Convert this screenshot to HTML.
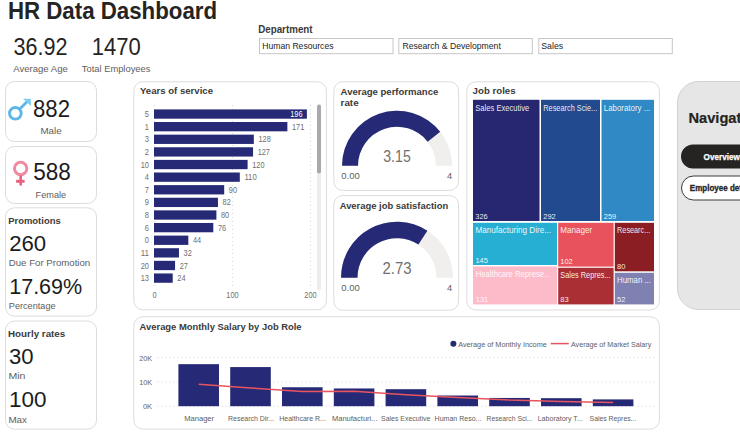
<!DOCTYPE html>
<html><head><meta charset="utf-8"><title>HR Data Dashboard</title>
<style>
*{margin:0;padding:0}
html,body{width:740px;height:434px;overflow:hidden;background:#fff}
svg{display:block;font-family:"Liberation Sans",sans-serif}
</style></head><body>
<svg width="740" height="434" viewBox="0 0 740 434">
<rect x="259.5" y="38.5" width="133.5" height="15.2" fill="#fff" stroke="#c6c6c6" stroke-width="1"/>
<rect x="398.8" y="38.5" width="133.5" height="15.2" fill="#fff" stroke="#c6c6c6" stroke-width="1"/>
<rect x="538.8" y="38.5" width="133.5" height="15.2" fill="#fff" stroke="#c6c6c6" stroke-width="1"/>
<rect x="5.5" y="81.5" width="91" height="60" rx="9" fill="#fff" stroke="#dcdcdc" stroke-width="1"/>
<rect x="5.5" y="146.5" width="91" height="57" rx="9" fill="#fff" stroke="#dcdcdc" stroke-width="1"/>
<rect x="5.5" y="207.8" width="91" height="108.3" rx="9" fill="#fff" stroke="#dcdcdc" stroke-width="1"/>
<rect x="5.5" y="321.0" width="91" height="108.2" rx="9" fill="#fff" stroke="#dcdcdc" stroke-width="1"/>
<g><circle cx="15.35" cy="113.3" r="5.85" fill="none" stroke="#5cb6e8" stroke-width="2.9"/><line x1="19.5" y1="109.2" x2="27.5" y2="101.2" stroke="#5cb6e8" stroke-width="2.8"/><path d="M23.1,98.8 L30.8,98.8 L30.8,106 Z" fill="#7ccbf1"/></g>
<g><circle cx="20.65" cy="168.5" r="6.2" fill="none" stroke="#f08aa1" stroke-width="3"/><rect x="19.4" y="175.5" width="2.6" height="10" fill="#e8637f"/><rect x="16.1" y="179.8" width="8.5" height="3" fill="#e8637f"/></g>
<rect x="133.8" y="81.8" width="192.6" height="228" rx="9" fill="#fff" stroke="#dcdcdc" stroke-width="1"/>
<line x1="154.5" y1="105" x2="154.5" y2="288" stroke="#d8d8d8" stroke-width="1" stroke-dasharray="1 3"/>
<line x1="232.5" y1="105" x2="232.5" y2="288" stroke="#d8d8d8" stroke-width="1" stroke-dasharray="1 3"/>
<line x1="310.5" y1="105" x2="310.5" y2="288" stroke="#d8d8d8" stroke-width="1" stroke-dasharray="1 3"/>
<rect x="154.0" y="109.40" width="152.88" height="9.3" fill="#262a76"/>
<rect x="154.0" y="122.02" width="133.38" height="9.3" fill="#262a76"/>
<rect x="154.0" y="134.64" width="99.84" height="9.3" fill="#262a76"/>
<rect x="154.0" y="147.26" width="99.06" height="9.3" fill="#262a76"/>
<rect x="154.0" y="159.88" width="93.60" height="9.3" fill="#262a76"/>
<rect x="154.0" y="172.50" width="85.80" height="9.3" fill="#262a76"/>
<rect x="154.0" y="185.12" width="70.20" height="9.3" fill="#262a76"/>
<rect x="154.0" y="197.74" width="63.96" height="9.3" fill="#262a76"/>
<rect x="154.0" y="210.36" width="62.40" height="9.3" fill="#262a76"/>
<rect x="154.0" y="222.98" width="59.28" height="9.3" fill="#262a76"/>
<rect x="154.0" y="235.60" width="34.32" height="9.3" fill="#262a76"/>
<rect x="154.0" y="248.22" width="24.96" height="9.3" fill="#262a76"/>
<rect x="154.0" y="260.84" width="21.06" height="9.3" fill="#262a76"/>
<rect x="154.0" y="273.46" width="18.72" height="9.3" fill="#262a76"/>
<rect x="317" y="104.4" width="4" height="186" rx="2" fill="#ededed"/>
<rect x="317" y="104.4" width="4" height="69" rx="2" fill="#a9a9a9"/>
<rect x="333.8" y="81.8" width="124.8" height="108.6" rx="9" fill="#fff" stroke="#dcdcdc" stroke-width="1"/>
<rect x="333.8" y="195.6" width="124.8" height="114.6" rx="9" fill="#fff" stroke="#dcdcdc" stroke-width="1"/>
<path d="M342.00,165.80 A55,55 0 0 1 452.00,165.80 L436.00,165.80 A39,39 0 0 0 358.00,165.80 Z" fill="#f0efee"/>
<path d="M342.00,165.80 A55,55 0 0 1 440.19,131.75 L427.63,141.66 A39,39 0 0 0 358.00,165.80 Z" fill="#262a76"/>
<path d="M341.00,277.70 A56,56 0 0 1 453.00,277.70 L436.50,277.70 A39.5,39.5 0 0 0 357.50,277.70 Z" fill="#f0efee"/>
<path d="M341.00,277.70 A56,56 0 0 1 427.38,230.65 L418.43,244.52 A39.5,39.5 0 0 0 357.50,277.70 Z" fill="#262a76"/>
<rect x="466.8" y="81.8" width="192.6" height="228.2" rx="9" fill="#fff" stroke="#dcdcdc" stroke-width="1"/>
<rect x="473" y="99.8" width="66.50" height="121.20" fill="#262770"/>
<rect x="541" y="99.8" width="59.00" height="121.20" fill="#224a8f"/>
<rect x="601.5" y="99.8" width="52.50" height="121.20" fill="#2f89c5"/>
<rect x="473" y="222.8" width="84.00" height="42.20" fill="#27aed3"/>
<rect x="473" y="266.4" width="84.00" height="38.00" fill="#fdbbca"/>
<rect x="558.2" y="222.8" width="55.40" height="43.80" fill="#e8525c"/>
<rect x="558.2" y="267.8" width="55.40" height="36.60" fill="#aa2f35"/>
<rect x="614.8" y="222.8" width="39.20" height="48.50" fill="#8b1e23"/>
<rect x="614.8" y="272.8" width="39.20" height="31.60" fill="#8081b3"/>
<rect x="677.5" y="81.5" width="100" height="228" rx="21" fill="#e6e6e6" stroke="#d2d2d2" stroke-width="1"/>
<rect x="681" y="144.5" width="90" height="24" rx="12" fill="#252423"/>
<rect x="681.5" y="176" width="90" height="24" rx="12" fill="#fff" stroke="#3a3a3a" stroke-width="1"/>
<rect x="133.8" y="316.8" width="525.6" height="112.3" rx="9" fill="#fff" stroke="#dcdcdc" stroke-width="1"/>
<line x1="157.5" y1="357.6" x2="656" y2="357.6" stroke="#d4d4d4" stroke-width="1" stroke-dasharray="1 3"/>
<line x1="157.5" y1="381.9" x2="656" y2="381.9" stroke="#d4d4d4" stroke-width="1" stroke-dasharray="1 3"/>
<line x1="157.5" y1="406.2" x2="656" y2="406.2" stroke="#d4d4d4" stroke-width="1" stroke-dasharray="1 3"/>
<rect x="178.40" y="364.16" width="40.6" height="42.04" fill="#262a76"/>
<rect x="230.20" y="367.08" width="40.6" height="39.12" fill="#262a76"/>
<rect x="282.00" y="387.25" width="40.6" height="18.95" fill="#262a76"/>
<rect x="333.80" y="388.46" width="40.6" height="17.74" fill="#262a76"/>
<rect x="385.60" y="389.19" width="40.6" height="17.01" fill="#262a76"/>
<rect x="437.40" y="395.51" width="40.6" height="10.69" fill="#262a76"/>
<rect x="489.20" y="397.94" width="40.6" height="8.26" fill="#262a76"/>
<rect x="541.00" y="398.18" width="40.6" height="8.02" fill="#262a76"/>
<rect x="592.80" y="399.40" width="40.6" height="6.80" fill="#262a76"/>
<polyline points="198.70,384.21 250.50,387.97 302.30,391.38 354.10,391.13 405.90,394.78 457.70,397.45 509.50,400.12 561.30,401.58 613.10,402.56" fill="none" stroke="#e8555e" stroke-width="1.5"/>
<circle cx="453.4" cy="343.8" r="3" fill="#262a76"/>
<line x1="550.7" y1="343.6" x2="568.8" y2="343.6" stroke="#e8555e" stroke-width="1.5"/>
<g fill="#252423">
<text x="7.9" y="19" font-size="23.4" font-weight="700" textLength="209.2" lengthAdjust="spacingAndGlyphs">HR Data Dashboard</text>
<text x="13.6" y="54.6" font-size="23.2" textLength="54" lengthAdjust="spacingAndGlyphs">36.92</text>
<text x="13.2" y="72.2" font-size="9.5" fill="#605e5c" textLength="54.6" lengthAdjust="spacingAndGlyphs">Average Age</text>
<text x="91.8" y="54.6" font-size="23.2" textLength="49" lengthAdjust="spacingAndGlyphs">1470</text>
<text x="81.8" y="72.2" font-size="9.5" fill="#605e5c" textLength="68.6" lengthAdjust="spacingAndGlyphs">Total Employees</text>
<text x="258.2" y="33" font-size="10" font-weight="700" fill="#3b3a39" textLength="54.4" lengthAdjust="spacingAndGlyphs">Department</text>
<text x="262.3" y="49.4" font-size="9.8" textLength="71.2" lengthAdjust="spacingAndGlyphs">Human Resources</text>
<text x="402.4" y="49.4" font-size="9.8" textLength="98.4" lengthAdjust="spacingAndGlyphs">Research &amp; Development</text>
<text x="541.2" y="49.4" font-size="9.8" textLength="22" lengthAdjust="spacingAndGlyphs">Sales</text>
<text x="33" y="116.6" font-size="23.6" fill="#1c1c1c" textLength="37" lengthAdjust="spacingAndGlyphs">882</text>
<text x="40.4" y="133.8" font-size="9" fill="#605e5c" textLength="21.2" lengthAdjust="spacingAndGlyphs">Male</text>
<text x="33.2" y="179.6" font-size="23.6" fill="#1c1c1c" textLength="37.6" lengthAdjust="spacingAndGlyphs">588</text>
<text x="35.6" y="197.5" font-size="9" fill="#605e5c" textLength="30.6" lengthAdjust="spacingAndGlyphs">Female</text>
<text x="8.2" y="224.3" font-size="9.4" font-weight="700" fill="#3b3a39" textLength="52.5" lengthAdjust="spacingAndGlyphs">Promotions</text>
<text x="9.2" y="250.9" font-size="22.5" fill="#1c1c1c" textLength="37" lengthAdjust="spacingAndGlyphs">260</text>
<text x="8.8" y="266.4" font-size="9" fill="#605e5c" textLength="81.4" lengthAdjust="spacingAndGlyphs">Due For Promotion</text>
<text x="9.2" y="294.2" font-size="22.5" fill="#1c1c1c" textLength="73" lengthAdjust="spacingAndGlyphs">17.69%</text>
<text x="8.8" y="309.2" font-size="9" fill="#605e5c" textLength="46.8" lengthAdjust="spacingAndGlyphs">Percentage</text>
<text x="8.0" y="337" font-size="9.4" font-weight="700" fill="#3b3a39" textLength="57.3" lengthAdjust="spacingAndGlyphs">Hourly rates</text>
<text x="8.9" y="364.4" font-size="22.5" fill="#1c1c1c" textLength="24.6" lengthAdjust="spacingAndGlyphs">30</text>
<text x="8.4" y="379.1" font-size="9" fill="#605e5c" textLength="17.0" lengthAdjust="spacingAndGlyphs">Min</text>
<text x="9.0" y="407.4" font-size="22.5" fill="#1c1c1c" textLength="37.5" lengthAdjust="spacingAndGlyphs">100</text>
<text x="8.4" y="423" font-size="9" fill="#605e5c" textLength="18.6" lengthAdjust="spacingAndGlyphs">Max</text>
<text x="140.0" y="94" font-size="9.4" font-weight="700" fill="#3b3a39" textLength="73" lengthAdjust="spacingAndGlyphs">Years of service</text>
<text x="149.0" y="117.15" font-size="8.6" fill="#707070" text-anchor="end" textLength="4.15" lengthAdjust="spacingAndGlyphs">5</text>
<text x="302.58" y="117.15" font-size="8.6" fill="#ffffff" text-anchor="end" textLength="12.30" lengthAdjust="spacingAndGlyphs">196</text>
<text x="149.0" y="129.77" font-size="8.6" fill="#707070" text-anchor="end" textLength="4.15" lengthAdjust="spacingAndGlyphs">1</text>
<text x="291.98" y="129.77" font-size="8.6" fill="#707070" textLength="12.30" lengthAdjust="spacingAndGlyphs">171</text>
<text x="149.0" y="142.39" font-size="8.6" fill="#707070" text-anchor="end" textLength="4.15" lengthAdjust="spacingAndGlyphs">3</text>
<text x="258.44" y="142.39" font-size="8.6" fill="#707070" textLength="12.30" lengthAdjust="spacingAndGlyphs">128</text>
<text x="149.0" y="155.01" font-size="8.6" fill="#707070" text-anchor="end" textLength="4.15" lengthAdjust="spacingAndGlyphs">2</text>
<text x="257.66" y="155.01" font-size="8.6" fill="#707070" textLength="12.30" lengthAdjust="spacingAndGlyphs">127</text>
<text x="149.0" y="167.63" font-size="8.6" fill="#707070" text-anchor="end" textLength="8.30" lengthAdjust="spacingAndGlyphs">10</text>
<text x="252.20" y="167.63" font-size="8.6" fill="#707070" textLength="12.30" lengthAdjust="spacingAndGlyphs">120</text>
<text x="149.0" y="180.25" font-size="8.6" fill="#707070" text-anchor="end" textLength="4.15" lengthAdjust="spacingAndGlyphs">4</text>
<text x="244.40" y="180.25" font-size="8.6" fill="#707070" textLength="12.30" lengthAdjust="spacingAndGlyphs">110</text>
<text x="149.0" y="192.87" font-size="8.6" fill="#707070" text-anchor="end" textLength="4.15" lengthAdjust="spacingAndGlyphs">7</text>
<text x="228.80" y="192.87" font-size="8.6" fill="#707070" textLength="8.20" lengthAdjust="spacingAndGlyphs">90</text>
<text x="149.0" y="205.49" font-size="8.6" fill="#707070" text-anchor="end" textLength="4.15" lengthAdjust="spacingAndGlyphs">9</text>
<text x="222.56" y="205.49" font-size="8.6" fill="#707070" textLength="8.20" lengthAdjust="spacingAndGlyphs">82</text>
<text x="149.0" y="218.11" font-size="8.6" fill="#707070" text-anchor="end" textLength="4.15" lengthAdjust="spacingAndGlyphs">8</text>
<text x="221.00" y="218.11" font-size="8.6" fill="#707070" textLength="8.20" lengthAdjust="spacingAndGlyphs">80</text>
<text x="149.0" y="230.73" font-size="8.6" fill="#707070" text-anchor="end" textLength="4.15" lengthAdjust="spacingAndGlyphs">6</text>
<text x="217.88" y="230.73" font-size="8.6" fill="#707070" textLength="8.20" lengthAdjust="spacingAndGlyphs">76</text>
<text x="149.0" y="243.35" font-size="8.6" fill="#707070" text-anchor="end" textLength="4.15" lengthAdjust="spacingAndGlyphs">0</text>
<text x="192.92" y="243.35" font-size="8.6" fill="#707070" textLength="8.20" lengthAdjust="spacingAndGlyphs">44</text>
<text x="149.0" y="255.97" font-size="8.6" fill="#707070" text-anchor="end" textLength="8.30" lengthAdjust="spacingAndGlyphs">11</text>
<text x="183.56" y="255.97" font-size="8.6" fill="#707070" textLength="8.20" lengthAdjust="spacingAndGlyphs">32</text>
<text x="149.0" y="268.59" font-size="8.6" fill="#707070" text-anchor="end" textLength="8.30" lengthAdjust="spacingAndGlyphs">20</text>
<text x="179.66" y="268.59" font-size="8.6" fill="#707070" textLength="8.20" lengthAdjust="spacingAndGlyphs">27</text>
<text x="149.0" y="281.21" font-size="8.6" fill="#707070" text-anchor="end" textLength="8.30" lengthAdjust="spacingAndGlyphs">13</text>
<text x="177.32" y="281.21" font-size="8.6" fill="#707070" textLength="8.20" lengthAdjust="spacingAndGlyphs">24</text>
<text x="154.5" y="298.4" font-size="8.4" fill="#707070" text-anchor="middle" textLength="4.10" lengthAdjust="spacingAndGlyphs">0</text>
<text x="232.5" y="298.4" font-size="8.4" fill="#707070" text-anchor="middle" textLength="12.30" lengthAdjust="spacingAndGlyphs">100</text>
<text x="310.5" y="298.4" font-size="8.4" fill="#707070" text-anchor="middle" textLength="12.30" lengthAdjust="spacingAndGlyphs">200</text>
<text x="340.6" y="94.9" font-size="9.4" font-weight="700" fill="#3b3a39" textLength="97.7" lengthAdjust="spacingAndGlyphs">Average performance</text>
<text x="340.6" y="106.1" font-size="9.4" font-weight="700" fill="#3b3a39" textLength="18" lengthAdjust="spacingAndGlyphs">rate</text>
<text x="339.7" y="208.9" font-size="9.4" font-weight="700" fill="#3b3a39" textLength="108.5" lengthAdjust="spacingAndGlyphs">Average job satisfaction</text>
<text x="397" y="161.6" font-size="17" fill="#707070" text-anchor="middle" textLength="27.5" lengthAdjust="spacingAndGlyphs">3.15</text>
<text x="341.3" y="179.1" font-size="9.2" fill="#605e5c" textLength="18.5" lengthAdjust="spacingAndGlyphs">0.00</text>
<text x="452.2" y="179.1" font-size="9.2" fill="#605e5c" text-anchor="end">4</text>
<text x="397" y="274.4" font-size="17" fill="#707070" text-anchor="middle" textLength="29" lengthAdjust="spacingAndGlyphs">2.73</text>
<text x="341.3" y="291.2" font-size="9.2" fill="#605e5c" textLength="18.5" lengthAdjust="spacingAndGlyphs">0.00</text>
<text x="452.2" y="291.2" font-size="9.2" fill="#605e5c" text-anchor="end">4</text>
<text x="472.6" y="94" font-size="9.4" font-weight="700" fill="#3b3a39" textLength="43" lengthAdjust="spacingAndGlyphs">Job roles</text>
<text x="475.3" y="110.7" font-size="8.2" fill="#ffffff" textLength="54.0" lengthAdjust="spacingAndGlyphs" fill-opacity="0.92">Sales Executive</text>
<text x="475.3" y="218.8" font-size="8.0" fill="#ffffff" textLength="12.4" lengthAdjust="spacingAndGlyphs" fill-opacity="0.92">326</text>
<text x="543.3000000000001" y="110.7" font-size="8.2" fill="#ffffff" textLength="53.9" lengthAdjust="spacingAndGlyphs" fill-opacity="0.92">Research Scie...</text>
<text x="543.3000000000001" y="218.8" font-size="8.0" fill="#ffffff" textLength="12.4" lengthAdjust="spacingAndGlyphs" fill-opacity="0.92">292</text>
<text x="603.8000000000001" y="110.7" font-size="8.2" fill="#ffffff" textLength="46.5" lengthAdjust="spacingAndGlyphs" fill-opacity="0.92">Laboratory ...</text>
<text x="603.8000000000001" y="218.8" font-size="8.0" fill="#ffffff" textLength="12.4" lengthAdjust="spacingAndGlyphs" fill-opacity="0.92">259</text>
<text x="475.40000000000003" y="233.0" font-size="8.2" fill="#ffffff" textLength="75.7" lengthAdjust="spacingAndGlyphs" fill-opacity="0.92">Manufacturing Dire...</text>
<text x="475.40000000000003" y="262.8" font-size="8.0" fill="#ffffff" textLength="12.4" lengthAdjust="spacingAndGlyphs" fill-opacity="0.92">145</text>
<text x="475.8" y="276.6" font-size="8.2" fill="#ffffff" textLength="74.6" lengthAdjust="spacingAndGlyphs" fill-opacity="0.92">Healthcare Represe...</text>
<text x="475.8" y="302.2" font-size="8.0" fill="#ffffff" textLength="12.4" lengthAdjust="spacingAndGlyphs" fill-opacity="0.92">131</text>
<text x="560.3000000000001" y="233.0" font-size="8.2" fill="#ffffff" textLength="31.9" lengthAdjust="spacingAndGlyphs" fill-opacity="0.92">Manager</text>
<text x="560.3000000000001" y="264.4" font-size="8.0" fill="#ffffff" textLength="12.4" lengthAdjust="spacingAndGlyphs" fill-opacity="0.92">102</text>
<text x="560.3000000000001" y="278.0" font-size="8.2" fill="#ffffff" textLength="50.3" lengthAdjust="spacingAndGlyphs" fill-opacity="0.92">Sales Repres...</text>
<text x="560.3000000000001" y="302.2" font-size="8.0" fill="#ffffff" textLength="8.4" lengthAdjust="spacingAndGlyphs" fill-opacity="0.92">83</text>
<text x="617.1" y="233.0" font-size="8.2" fill="#ffffff" textLength="33.1" lengthAdjust="spacingAndGlyphs" fill-opacity="0.92">Researc...</text>
<text x="617.1" y="269.1" font-size="8.0" fill="#ffffff" textLength="8.4" lengthAdjust="spacingAndGlyphs" fill-opacity="0.92">80</text>
<text x="617.1" y="283.0" font-size="8.2" fill="#ffffff" textLength="33.8" lengthAdjust="spacingAndGlyphs" fill-opacity="0.92">Human ...</text>
<text x="617.1" y="302.2" font-size="8.0" fill="#ffffff" textLength="8.4" lengthAdjust="spacingAndGlyphs" fill-opacity="0.92">52</text>
<text x="688.4" y="122.7" font-size="14" stroke="#252423" stroke-width="0.2" font-weight="700" textLength="75" lengthAdjust="spacingAndGlyphs">Navigation</text>
<text x="703.6" y="160" font-size="8.2" stroke="#ffffff" stroke-width="0.25" font-weight="700" fill="#ffffff" textLength="36.2" lengthAdjust="spacingAndGlyphs">Overview</text>
<text x="689.8" y="191.4" font-size="8.2" stroke="#252423" stroke-width="0.3" font-weight="700" textLength="65.5" lengthAdjust="spacingAndGlyphs">Employee details</text>
<text x="139.6" y="330" font-size="9.4" font-weight="700" fill="#3b3a39" textLength="162" lengthAdjust="spacingAndGlyphs">Average Monthly Salary by Job Role</text>
<text x="152.2" y="360.5" font-size="8.0" fill="#666666" text-anchor="end" textLength="13.0" lengthAdjust="spacingAndGlyphs">20K</text>
<text x="152.2" y="384.8" font-size="8.0" fill="#666666" text-anchor="end" textLength="13.0" lengthAdjust="spacingAndGlyphs">10K</text>
<text x="152.2" y="409.1" font-size="8.0" fill="#666666" text-anchor="end" textLength="9.3" lengthAdjust="spacingAndGlyphs">0K</text>
<text x="199.15" y="420.5" font-size="7.8" fill="#605e5c" text-anchor="middle" textLength="29.9" lengthAdjust="spacingAndGlyphs">Manager</text>
<text x="251.05" y="420.5" font-size="7.8" fill="#605e5c" text-anchor="middle" textLength="45.9" lengthAdjust="spacingAndGlyphs">Research Dir...</text>
<text x="302.60" y="420.5" font-size="7.8" fill="#605e5c" text-anchor="middle" textLength="46.6" lengthAdjust="spacingAndGlyphs">Healthcare R...</text>
<text x="354.75" y="420.5" font-size="7.8" fill="#605e5c" text-anchor="middle" textLength="45.5" lengthAdjust="spacingAndGlyphs">Manufacturi...</text>
<text x="405.70" y="420.5" font-size="7.8" fill="#605e5c" text-anchor="middle" textLength="49.2" lengthAdjust="spacingAndGlyphs">Sales Executive</text>
<text x="458.05" y="420.5" font-size="7.8" fill="#605e5c" text-anchor="middle" textLength="46.9" lengthAdjust="spacingAndGlyphs">Human Reso...</text>
<text x="509.50" y="420.5" font-size="7.8" fill="#605e5c" text-anchor="middle" textLength="46.0" lengthAdjust="spacingAndGlyphs">Research Sci...</text>
<text x="560.20" y="420.5" font-size="7.8" fill="#605e5c" text-anchor="middle" textLength="45.0" lengthAdjust="spacingAndGlyphs">Laboratory T...</text>
<text x="612.95" y="420.5" font-size="7.8" fill="#605e5c" text-anchor="middle" textLength="46.7" lengthAdjust="spacingAndGlyphs">Sales Repres...</text>
<text x="458.2" y="346.5" font-size="7.6" fill="#605e5c" textLength="88.6" lengthAdjust="spacingAndGlyphs">Average of Monthly Income</text>
<text x="571" y="346.5" font-size="7.6" fill="#605e5c" textLength="80.2" lengthAdjust="spacingAndGlyphs">Average of Market Salary</text>
</g>
</svg>
</body></html>
